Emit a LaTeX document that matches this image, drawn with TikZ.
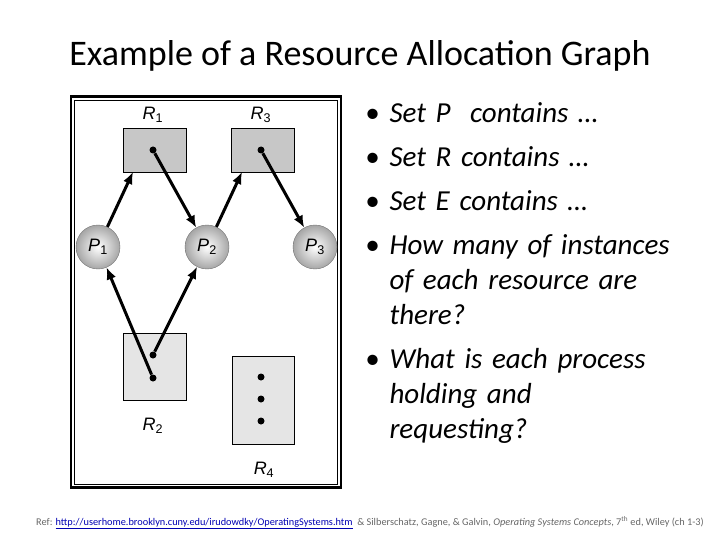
\documentclass[tikz,border=0pt]{standalone}
\usepackage{fontspec}
\setmainfont{Carlito}
\newfontfamily\hv{Liberation Sans}
\usetikzlibrary{arrows.meta}
\begin{document}
\begin{tikzpicture}[x=1pt,y=-1pt,
  resA/.style={draw,fill=black!22,minimum width=63pt,minimum height=44pt,inner sep=0pt},
  resB/.style={draw,fill=black!10,inner sep=0pt},
  proc/.style={circle,draw=black!55,shading=radial,inner color=white,outer color=black!35,minimum size=44pt,inner sep=0pt,font=\hv\itshape\fontsize{18}{18}\selectfont},
  lab/.style={font=\hv\itshape\fontsize{18}{18}\selectfont},
  dotn/.style={circle,fill=black,minimum size=7pt,inner sep=0pt},
  conn/.style={-{Latex[length=12pt,width=10pt]},line width=3pt},
  bul/.style={anchor=north west,text width=340pt,align=left,font=\itshape\fontsize{29}{35}\selectfont}]
\useasboundingbox (0,0) rectangle (720,540);
\node (title) at (360,56) {\fontsize{36}{40}\selectfont Example of a Resource Allocation Graph};
\node[draw,line width=2.5pt,minimum width=270pt,minimum height=391pt] (frame) at (206,292) {};
\node[draw,line width=0.6pt,minimum width=263pt,minimum height=384pt] (inner) at (206,292) {};
\node[resA] (R1) at (154.5,150) {};
\node[resA] (R3) at (263,150) {};
\node[resB,minimum width=63pt,minimum height=67pt] (R2) at (154.5,366.5) {};
\node[resB,minimum width=62pt,minimum height=88pt] (R4) at (263,400) {};
\node[dotn] (d1) at (153,150) {};
\node[dotn] (d3) at (261,150) {};
\node[dotn] (d2a) at (153,355) {};
\node[dotn] (d2b) at (153,378) {};
\node[dotn] (d4a) at (261,377) {};
\node[dotn] (d4b) at (261,399) {};
\node[dotn] (d4c) at (261,421) {};
\node[lab] (l1) at (153,115) {R\textsubscript{\normalfont\hv 1}};
\node[lab] (l3) at (261,115) {R\textsubscript{\normalfont\hv 3}};
\node[lab] (l2) at (153,426) {R\textsubscript{\normalfont\hv 2}};
\node[lab] (l4) at (264,470) {R\textsubscript{\normalfont\hv 4}};
\node[proc] (P1) at (98,247) {P\textsubscript{\normalfont\hv 1}};
\node[proc] (P2) at (207,247) {P\textsubscript{\normalfont\hv 2}};
\node[proc] (P3) at (315,247) {P\textsubscript{\normalfont\hv 3}};
\coordinate (r1in) at (133,172);
\coordinate (r3in) at (242,172);
\draw[conn] (P1) -- (r1in);
\draw[conn] (d1) -- (P2);
\draw[conn] (P2) -- (r3in);
\draw[conn] (d3) -- (P3);
\draw[conn] (d2b) -- (P1);
\draw[conn] (d2a) -- (P2);
\node[bul] (b) at (356,84) {%
\raggedright
\begin{list}{\textbullet}{\leftmargin=30pt\labelwidth=20pt\labelsep=10pt\itemsep=9pt\parsep=0pt\topsep=0pt\rightmargin=26pt}
\raggedright
\item Set P\ \ contains …
\item Set R contains …
\item Set E contains …
\item How many of instances of each resource are there?
\item What is each process holding and requesting?
\end{list}};
\node (ref) at (370,523) {\fontsize{10.3}{11}\selectfont\color{black!60}Ref: {\color{blue!70!black}\underline{http://userhome.brooklyn.cuny.edu/irudowdky/OperatingSystems.htm}}\ \ \& Silberschatz, Gagne, \& Galvin, \textit{Operating Systems Concepts}, 7\textsuperscript{th} ed, Wiley (ch 1-3)};
\end{tikzpicture}
\end{document}
